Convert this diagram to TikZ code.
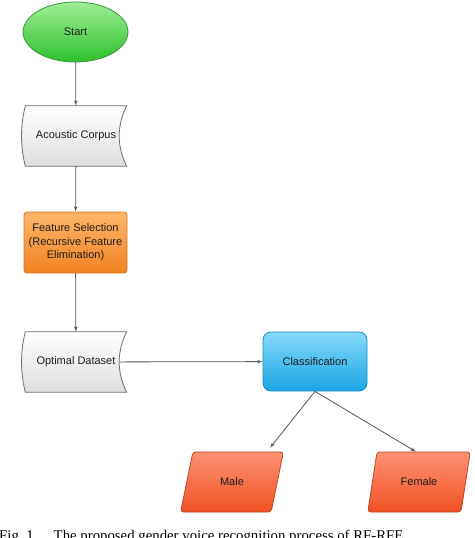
\documentclass[tikz,border=0pt]{standalone}
\usepackage{fontspec}
\setmainfont{Liberation Sans}
\newfontfamily\capfont{Liberation Serif}
\definecolor{startTop}{RGB}{160,238,150}
\definecolor{startBot}{RGB}{45,192,45}
\definecolor{startLine}{RGB}{60,150,60}
\definecolor{selTop}{RGB}{252,182,105}
\definecolor{selBot}{RGB}{242,130,35}
\definecolor{selLine}{RGB}{215,120,40}
\definecolor{clsTop}{RGB}{135,218,250}
\definecolor{clsBot}{RGB}{25,165,228}
\definecolor{clsLine}{RGB}{20,140,200}
\definecolor{outTop}{RGB}{252,145,115}
\definecolor{outBot}{RGB}{240,82,35}
\definecolor{outLine}{RGB}{190,70,40}
\definecolor{dataBot}{RGB}{222,222,222}
\definecolor{dataLine}{RGB}{110,110,110}
\definecolor{flowgrey}{RGB}{85,85,85}
\definecolor{textdark}{RGB}{30,30,30}
\usetikzlibrary{arrows}
\usetikzlibrary{shapes.geometric}
\tikzstyle{base}=[x=1pt, y=-1pt, font=\fontsize{11}{13.5}\selectfont, text=textdark]
\tikzstyle{startnode}=[ellipse, draw=startLine, line width=0.8pt, top color=startTop, bottom color=startBot, minimum width=105pt, minimum height=60pt]
\tikzstyle{datanode}=[minimum width=101pt, minimum height=60pt]
\tikzstyle{dataline}=[draw=dataLine, line width=0.8pt, top color=white, bottom color=dataBot]
\tikzstyle{selnode}=[rectangle, rounded corners=3pt, draw=selLine, line width=0.8pt, top color=selTop, bottom color=selBot, minimum width=103pt, minimum height=61pt, align=center]
\tikzstyle{clsnode}=[rectangle, rounded corners=8pt, draw=clsLine, line width=0.8pt, top color=clsTop, bottom color=clsBot, minimum width=104pt, minimum height=59pt]
\tikzstyle{outnode}=[trapezium, trapezium left angle=72, trapezium right angle=108, trapezium stretches=true, rounded corners=3pt, draw=outLine, line width=0.8pt, top color=outTop, bottom color=outBot, minimum width=103pt, minimum height=60pt]
\tikzstyle{flow}=[draw=flowgrey, line width=0.8pt, -latex']
\begin{document}
\begin{tikzpicture}[base]
    \path [use as bounding box] (0,0) rectangle (474,538);
        \node [startnode] (start) at (75.5,32) {Start};
        \node [datanode] (corpus) at (76,136) {};
        \draw [dataline] (corpus.north west) -- (corpus.north east)
            .. controls +(-10,20) and +(-10,-20) .. (corpus.south east)
            -- (corpus.south west)
            .. controls +(-5,-20) and +(-5,20) .. (corpus.north west) -- cycle;
        \node at (corpus.center) {Acoustic Corpus};
        \node [selnode] (select) at (75.5,242.5) {Feature Selection\\(Recursive Feature\\Elimination)};
        \node [datanode] (optimal) at (76,362) {};
        \draw [dataline] (optimal.north west) -- (optimal.north east)
            .. controls +(-10,20) and +(-10,-20) .. (optimal.south east)
            -- (optimal.south west)
            .. controls +(-5,-20) and +(-5,20) .. (optimal.north west) -- cycle;
        \node at (optimal.center) {Optimal Dataset};
        \node [clsnode] (classify) at (315,361.5) {Classification};
        \node [outnode] (male) at (232,482) {Male};
        \node [outnode] (female) at (419,482) {Female};
        \draw [flow] (start) -- (corpus);
        \draw [flow] (corpus) -- (select);
        \draw [flow] (select) -- (optimal);
        \draw [flow, shorten <=-7pt] (optimal) -- (classify);
        \draw [flow, shorten >=5pt] (classify.south) -- (male.41);
        \draw [flow] (classify.south) -- (female.96);
        \node [font=\capfont\fontsize{14.8}{17}\selectfont, text=black, anchor=base west, inner sep=0pt] (caption) at (-1,540) {Fig.~1.\hspace{1.1em}The proposed gender voice recognition process of RF-RFE};
    \end{tikzpicture}
\end{document}
